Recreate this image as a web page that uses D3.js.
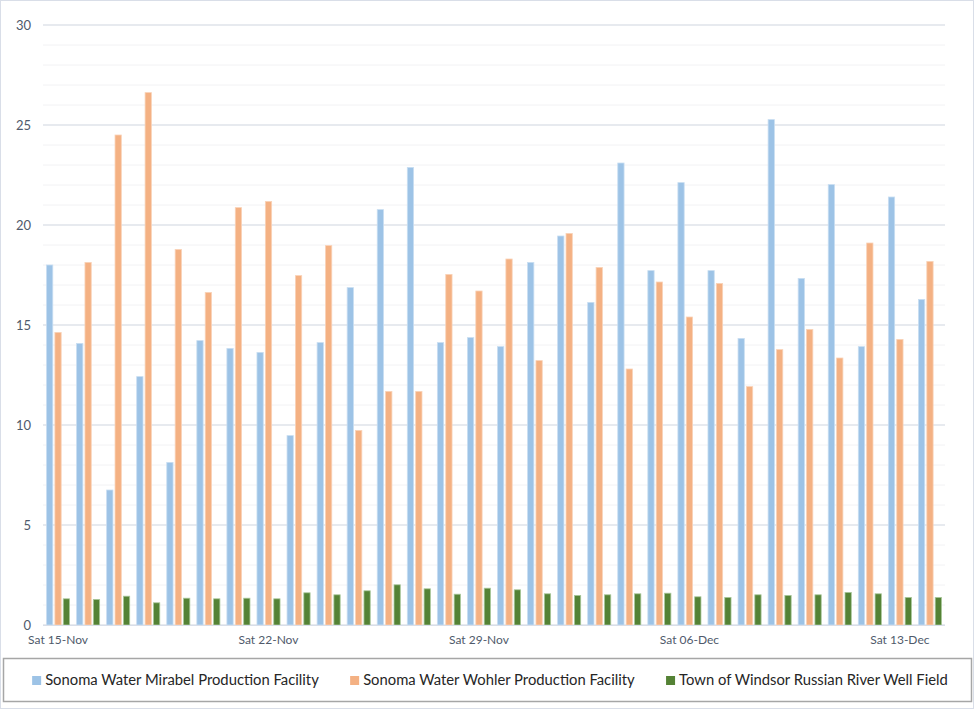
<!DOCTYPE html>
<html>
<head>
<meta charset="utf-8">
<script src="https://cdn.jsdelivr.net/npm/d3@7"></script>
<style>
  html, body { margin: 0; padding: 0; background: #fff; }
  svg { display: block; font-family: Lato, "Open Sans", sans-serif; }
</style>
</head>
<body>
<svg id="chart" width="978" height="720"></svg>
<script>
const days = [
  'Sat 15-Nov', 'Sun 16-Nov', 'Mon 17-Nov', 'Tue 18-Nov', 'Wed 19-Nov', 'Thu 20-Nov', 'Fri 21-Nov',
  'Sat 22-Nov', 'Sun 23-Nov', 'Mon 24-Nov', 'Tue 25-Nov', 'Wed 26-Nov', 'Thu 27-Nov', 'Fri 28-Nov',
  'Sat 29-Nov', 'Sun 30-Nov', 'Mon 01-Dec', 'Tue 02-Dec', 'Wed 03-Dec', 'Thu 04-Dec', 'Fri 05-Dec',
  'Sat 06-Dec', 'Sun 07-Dec', 'Mon 08-Dec', 'Tue 09-Dec', 'Wed 10-Dec', 'Thu 11-Dec', 'Fri 12-Dec',
  'Sat 13-Dec', 'Sun 14-Dec'
]
const tickDays = ['Sat 15-Nov', 'Sat 22-Nov', 'Sat 29-Nov', 'Sat 06-Dec', 'Sat 13-Dec']

const seriesNames = [
  'Sonoma Water Mirabel Production Facility',
  'Sonoma Water Wohler Production Facility',
  'Town of Windsor Russian River Well Field'
]

const mirabel = [
  18.0, 14.08, 6.75, 12.42, 8.13, 14.22, 13.83, 13.63, 9.47, 14.12,
  16.87, 20.77, 22.88, 14.12, 14.37, 13.92, 18.13, 19.45, 16.13, 23.1,
  17.72, 22.12, 17.72, 14.33, 25.27, 17.33, 22.02, 13.92, 21.4, 16.28
]
const wohler = [
  14.63, 18.13, 24.5, 26.62, 18.78, 16.63, 20.87, 21.18, 17.47, 18.97,
  9.73, 11.68, 11.68, 17.53, 16.7, 18.3, 13.22, 19.58, 17.88, 12.8,
  17.15, 15.4, 17.08, 11.92, 13.77, 14.78, 13.35, 19.1, 14.28, 18.18
]
const windsor = [
  1.31, 1.28, 1.44, 1.11, 1.34, 1.31, 1.34, 1.31, 1.61, 1.51,
  1.71, 2.01, 1.81, 1.54, 1.84, 1.76, 1.56, 1.48, 1.51, 1.56,
  1.59, 1.41, 1.38, 1.51, 1.48, 1.51, 1.63, 1.56, 1.38, 1.38
]
const yTicks = [0, 5, 10, 15, 20, 25, 30]

const colors = ['#9dc3e6', '#f4b183', '#548235']
const edges = ['#c9def2', '#f9d3b8', '#a9c79a']
const textColor = '#4f5a6b'

const svg = d3.select('#chart')
const series = [mirabel, wohler, windsor]

// outer chart border
svg.append('rect')
  .attr('x', 0.5).attr('y', 0.5)
  .attr('width', 973).attr('height', 708)
  .attr('fill', '#fff')
  .attr('stroke', '#d9dee8')

const plotLeft = 43, plotRight = 945, plotTop = 25, plotBottom = 625

const x0 = d3.scaleBand().domain(days).range([plotLeft, plotRight]).padding(0)
const x1 = d3.scaleBand().domain(d3.range(3))
  .range([3.5, x0.bandwidth() - 3.5]).paddingInner(0.25)
const y = d3.scaleLinear().domain([0, 30]).range([plotBottom, plotTop])

// gridlines: minor every 1, major every 5
const grid = svg.append('g')
grid.selectAll('line.minor')
  .data(d3.range(1, 30).filter(v => v % 5 !== 0))
  .enter().append('line')
    .attr('class', 'minor')
    .attr('x1', plotLeft).attr('x2', plotRight)
    .attr('y1', d => y(d)).attr('y2', d => y(d))
    .attr('stroke', '#f2f2f4').attr('stroke-width', 1)
grid.selectAll('line.major')
  .data(yTicks)
  .enter().append('line')
    .attr('class', 'major')
    .attr('x1', plotLeft).attr('x2', plotRight)
    .attr('y1', d => y(d)).attr('y2', d => y(d))
    .attr('stroke', '#dfe3ea').attr('stroke-width', 1.3)

// y axis labels
const yAxis = svg.append('g')
  .attr('transform', `translate(${plotLeft - 12},0)`)
  .call(d3.axisLeft(y).tickValues(yTicks).tickSize(0).tickPadding(0))
yAxis.select('.domain').remove()
yAxis.selectAll('text')
  .attr('fill', textColor)
  .style('font-size', '13px')
  .style('font-family', 'Lato, sans-serif')

// bars
const groups = svg.append('g').selectAll('g')
  .data(days)
  .enter().append('g')
    .attr('transform', d => `translate(${x0(d)},0)`)

groups.selectAll('rect')
  .data((d, i) => series.map((s, k) => ({ k: k, v: s[i] })))
  .enter().append('rect')
    .attr('x', d => x1(d.k))
    .attr('y', d => y(d.v))
    .attr('width', x1.bandwidth())
    .attr('height', d => y(0) - y(d.v))
    .attr('fill', d => colors[d.k])
    .attr('stroke', d => edges[d.k])
    .attr('stroke-width', 0.8)

// x axis
const xAxis = svg.append('g')
  .attr('transform', `translate(0,${plotBottom})`)
  .call(d3.axisBottom(x0).tickValues(tickDays).tickSize(0).tickPadding(10))
xAxis.select('.domain')
  .attr('d', `M${plotLeft},0.5H${plotRight}`)
  .attr('stroke', '#d9dee8')
xAxis.selectAll('text')
  .attr('fill', textColor)
  .style('font-size', '12px')
  .style('font-family', 'Lato, sans-serif')

// legend
svg.append('rect')
  .attr('x', 3.5).attr('y', 658.5)
  .attr('width', 968).attr('height', 43)
  .attr('fill', '#fff')
  .attr('stroke', '#a6a6a6')
  .attr('stroke-width', 1.5)

const legend = svg.append('g')
const items = legend.selectAll('g')
  .data(seriesNames)
  .enter().append('g')
items.append('rect')
  .attr('width', 9).attr('height', 9)
  .attr('y', -9)
  .attr('fill', (d, i) => colors[i])
items.append('text')
  .attr('x', 13)
  .attr('fill', '#262626')
  .style('font-size', '14.8px')
  .text(d => d)

const gap = 31
const widths = []
items.each(function() { widths.push(this.getBBox().width) })
const total = d3.sum(widths) + gap * (widths.length - 1)
let cx = 490 - total / 2
items.attr('transform', (d, i) => {
  const t = `translate(${cx},685)`
  cx += widths[i] + gap
  return t
})
</script>
</body>
</html>
